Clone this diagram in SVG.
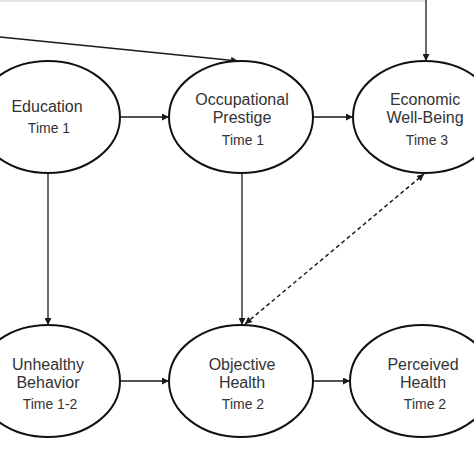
<svg xmlns="http://www.w3.org/2000/svg" width="474" height="474" viewBox="0 0 474 474">
<defs>
<marker id="ah" viewBox="0 0 10 10" refX="10" refY="5" markerWidth="7" markerHeight="7" markerUnits="userSpaceOnUse" orient="auto-start-reverse">
<path d="M0,0 L10,5 L0,10 z" fill="#1a1a1a"/>
</marker>
</defs>
<style>
.node ellipse{fill:#fff;stroke:#111;stroke-width:2}
.t1{font-family:"Liberation Sans",Arial,sans-serif;font-size:16px;fill:#333;text-anchor:middle}
.t2{font-family:"Liberation Sans",Arial,sans-serif;font-size:14px;fill:#333;text-anchor:middle}
.c{stroke:#1a1a1a;stroke-width:1.3;fill:none}
.d{stroke:#1a1a1a;stroke-width:1.5;fill:none;stroke-dasharray:4,3}
</style>
<rect width="474" height="474" fill="#fff"/>
<rect x="0" y="0" width="425" height="2" fill="#e2e2e2"/>
<g id="connectors">
<line class="c" x1="0" y1="37" x2="238" y2="61" marker-end="url(#ah)"/>
<line class="c" x1="426" y1="0" x2="426" y2="61" marker-end="url(#ah)"/>
<line class="c" x1="120" y1="117" x2="169" y2="117" marker-end="url(#ah)"/>
<line class="c" x1="313" y1="117" x2="353" y2="117" marker-end="url(#ah)"/>
<line class="c" x1="48" y1="173" x2="48" y2="325" marker-end="url(#ah)"/>
<line class="c" x1="242" y1="173" x2="242" y2="325" marker-end="url(#ah)"/>
<line class="c" x1="120" y1="381" x2="169" y2="381" marker-end="url(#ah)"/>
<line class="c" x1="313" y1="381" x2="350" y2="381" marker-end="url(#ah)"/>
<line class="d" x1="245" y1="324" x2="424" y2="174" marker-start="url(#ah)" marker-end="url(#ah)"/>
</g>
<g id="education" class="node">
<ellipse cx="48" cy="117" rx="72" ry="56"/>
<text class="t1" x="47" y="112">Education</text>
<text class="t2" x="49" y="133">Time 1</text>
</g>
<g id="occupational" class="node">
<ellipse cx="241" cy="117" rx="72" ry="56"/>
<text class="t1" x="242" y="105">Occupational</text>
<text class="t1" x="242" y="123">Prestige</text>
<text class="t2" x="243" y="145">Time 1</text>
</g>
<g id="economic" class="node">
<ellipse cx="425" cy="117" rx="72" ry="56"/>
<text class="t1" x="425" y="105">Economic</text>
<text class="t1" x="425" y="123">Well-Being</text>
<text class="t2" x="427" y="145">Time 3</text>
</g>
<g id="unhealthy" class="node">
<ellipse cx="48" cy="381" rx="72" ry="56"/>
<text class="t1" x="48" y="370">Unhealthy</text>
<text class="t1" x="48" y="388">Behavior</text>
<text class="t2" x="50" y="409">Time 1-2</text>
</g>
<g id="objective" class="node">
<ellipse cx="241" cy="381" rx="72" ry="56"/>
<text class="t1" x="242" y="370">Objective</text>
<text class="t1" x="242" y="388">Health</text>
<text class="t2" x="243" y="409">Time 2</text>
</g>
<g id="perceived" class="node">
<ellipse cx="422" cy="381" rx="72" ry="56"/>
<text class="t1" x="423" y="370">Perceived</text>
<text class="t1" x="423" y="388">Health</text>
<text class="t2" x="425" y="409">Time 2</text>
</g>
</svg>
